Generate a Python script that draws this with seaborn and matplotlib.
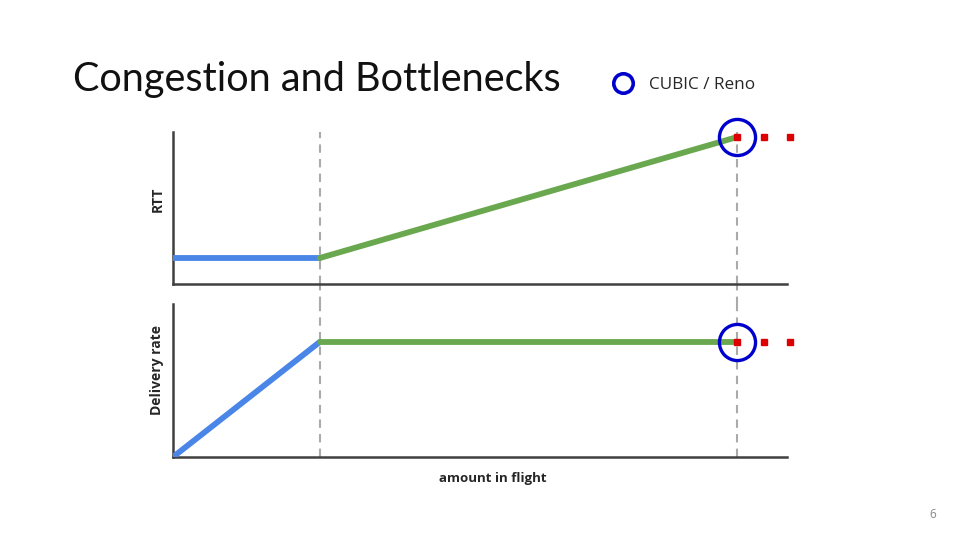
import matplotlib
matplotlib.use("Agg")
import matplotlib.pyplot as plt
from matplotlib.lines import Line2D
import seaborn as sns

# ---- data (normalized units) ----
bdp_x = 0.239          # amount in flight where pipe is full
buffer_full_x = 0.919  # where buffer is full (CUBIC/Reno operating point)

rtt_blue_x = [0.0, bdp_x]
rtt_blue_y = [0.171, 0.171]
rtt_green_x = [bdp_x, buffer_full_x]
rtt_green_y = [0.171, 0.967]

rate_blue_x = [0.0, bdp_x]
rate_blue_y = [0.0, 0.752]
rate_green_x = [bdp_x, buffer_full_x]
rate_green_y = [0.752, 0.752]

dots_x = [0.919, 0.963, 1.005]
rtt_dots_y = [0.967, 0.967, 0.967]
rate_dots_y = [0.752, 0.752, 0.752]

title = "Congestion and Bottlenecks"
legend_label = "CUBIC / Reno"

# ---- style ----
sns.set_style("white")
plt.rcParams["font.family"] = ["Open Sans", "DejaVu Sans"]

BLUE = "#4a86e8"
GREEN = "#6aa84f"
RED = "#dd0000"
CIRCLE = "#0000cc"
GRAY = "#aaaaaa"
SPINE = "#404040"

fig = plt.figure(figsize=(9.6, 5.4), dpi=100)
ax1 = fig.add_axes([173/960, 1-284/540, 614/960, 152/540])
ax2 = fig.add_axes([173/960, 1-457/540, 614/960, 153/540])

def draw(ax, bx, by, gx, gy, dy):
    for xv in (bdp_x, buffer_full_x):
        ax.axvline(xv, color=GRAY, lw=1.5, dashes=(4, 3), zorder=1)
    sns.lineplot(x=bx, y=by, ax=ax, color=BLUE, lw=4.2, zorder=3)
    sns.lineplot(x=gx, y=gy, ax=ax, color=GREEN, lw=4.2, zorder=3)
    ax.plot(dots_x, dy, ls="none", marker="s", ms=5, color=RED,
            clip_on=False, zorder=4)
    ax.plot([gx[-1]], [gy[-1]], ls="none", marker="o", ms=26, mfc="none",
            mec=CIRCLE, mew=2.4, clip_on=False, zorder=5)
    ax.set_xlim(0, 1)
    ax.set_ylim(0, 1)
    ax.set_xticks([])
    ax.set_yticks([])
    for s in ("top", "right"):
        ax.spines[s].set_visible(False)
    for s in ("left", "bottom"):
        ax.spines[s].set_color(SPINE)
        ax.spines[s].set_linewidth(1.8)

draw(ax1, rtt_blue_x, rtt_blue_y, rtt_green_x, rtt_green_y, rtt_dots_y)
draw(ax2, rate_blue_x, rate_blue_y, rate_green_x, rate_green_y, rate_dots_y)

# dashed lines across the gap between panels
for xv in (bdp_x, buffer_full_x):
    ax1.axvline(xv, ymin=-0.135, ymax=0, color=GRAY, lw=1.5, dashes=(4, 3),
                clip_on=False, zorder=1)

ax1.set_ylabel("RTT", fontsize=10, fontweight="bold")
ax1.yaxis.set_label_coords(-0.014, 0.56)
ax2.set_ylabel("Delivery rate", fontsize=10, fontweight="bold")
ax2.yaxis.set_label_coords(-0.014, 0.57)
ax2.set_xlabel("amount in flight", fontsize=9.5, fontweight="bold")
ax2.xaxis.set_label_coords(0.521, -0.098)

fig.text(73/960, 1-80/540, title, fontsize=28.5, va="center", ha="left",
         family=["Lato", "DejaVu Sans"], color="#111111")

handle = Line2D([], [], ls="none", marker="o", ms=14, mfc="none",
                mec=CIRCLE, mew=2.6)
fig.legend([handle], [legend_label], loc="center left",
           bbox_to_anchor=(611/960, 1-85/540), frameon=False, fontsize=12.3,
           handlelength=1.4, handletextpad=0.85, borderpad=0, borderaxespad=0)

fig.text(933/960, 1-514/540, "6", fontsize=8.5, color="#888888",
         ha="center", va="center")

fig.savefig("out.png", dpi=100)
